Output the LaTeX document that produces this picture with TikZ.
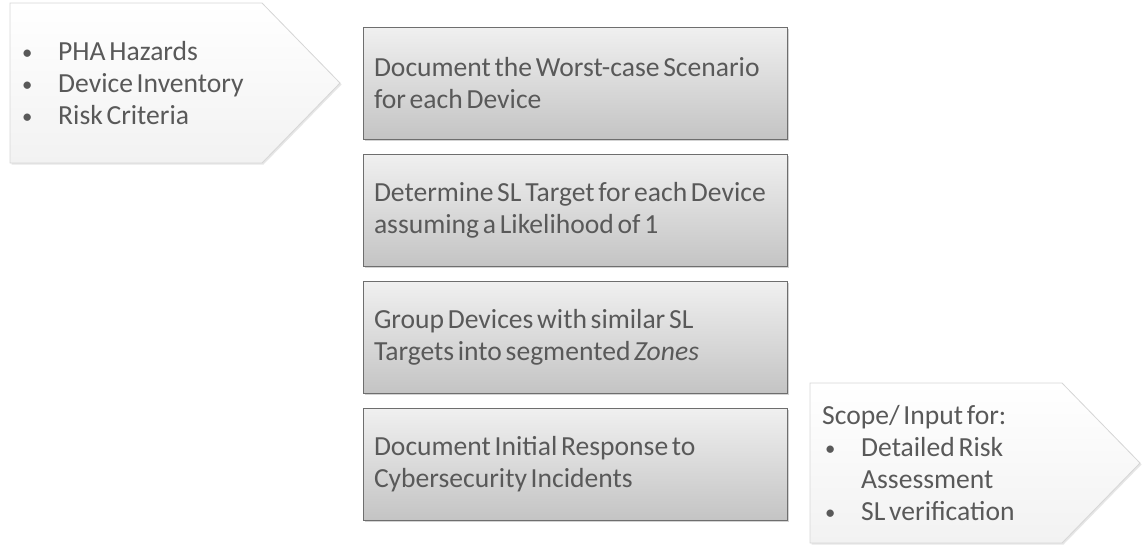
\documentclass[tikz,border=0pt]{standalone}
\usepackage{fontspec}
\setmainfont[WordSpace={0.6,0,0}]{Carlito}
\usetikzlibrary{positioning}
\usetikzlibrary{shadows}
\definecolor{txtgray}{HTML}{595959}
\definecolor{boxline}{HTML}{6E6E6E}
\definecolor{boxtop}{HTML}{F0F0F0}
\definecolor{boxbot}{HTML}{C4C4C4}
\definecolor{arrowline}{HTML}{D6D6D6}
\definecolor{arrowbot}{HTML}{F2F2F2}
\newcommand{\itm}[1]{\makebox[36pt][l]{\raisebox{1pt}{\scalebox{0.75}{\textbullet}}}#1}
\newcommand{\boxfont}{\fontsize{27.6}{32}\selectfont}

\begin{document}
\begin{tikzpicture}[x=1pt, y=-1pt,
	stage/.style={draw=boxline, line width=1pt, top color=boxtop, bottom color=boxbot, minimum width=424pt, minimum height=112pt, text width=402pt, align=flush left, inner sep=0pt, font=\boxfont, text=txtgray, drop shadow={opacity=0.35, shadow xshift=2pt, shadow yshift=-2pt}},
	flowarrow/.style={draw=arrowline, line width=0.8pt, top color=white, bottom color=arrowbot, drop shadow={opacity=0.2, shadow xshift=1.5pt, shadow yshift=-1.5pt}},
	listtext/.style={align=flush left, inner sep=0pt, font=\boxfont, text=txtgray}]
	\useasboundingbox (0,0) rectangle (1145,552);
	\draw[flowarrow] (10, 3)--(262, 3)--(340, 83)--(262, 163)--(10, 163)--cycle;
	\draw[flowarrow] (810, 383)--(1062, 383)--(1140, 463)--(1062, 543)--(810, 543)--cycle;
	\node[listtext, anchor = west] (inputs) at (22, 83) {\itm{PHA Hazards}\\ \itm{Device Inventory}\\ \itm{Risk Criteria}};
	\node[listtext, anchor = west] (outputs) at (822, 463) {Scope/ Input for:\\ \hspace*{3pt}\itm{Detailed Risk}\\ \hspace*{39pt}Assessment\\ \hspace*{3pt}\itm{SL verification}};
	\node[stage] (worst) at (575, 83) {Document the Worst-case Scenario\\ for each Device};
	\node[stage, below = 14pt of worst] (target) {Determine SL Target for each Device\\ assuming a Likelihood of 1};
	\node[stage, below = 14pt of target] (zones) {Group Devices with similar SL\\ Targets into segmented \emph{Zones}};
	\node[stage, below = 14pt of zones] (response) {Document Initial Response to\\ Cybersecurity Incidents};
\end{tikzpicture}
\end{document}
